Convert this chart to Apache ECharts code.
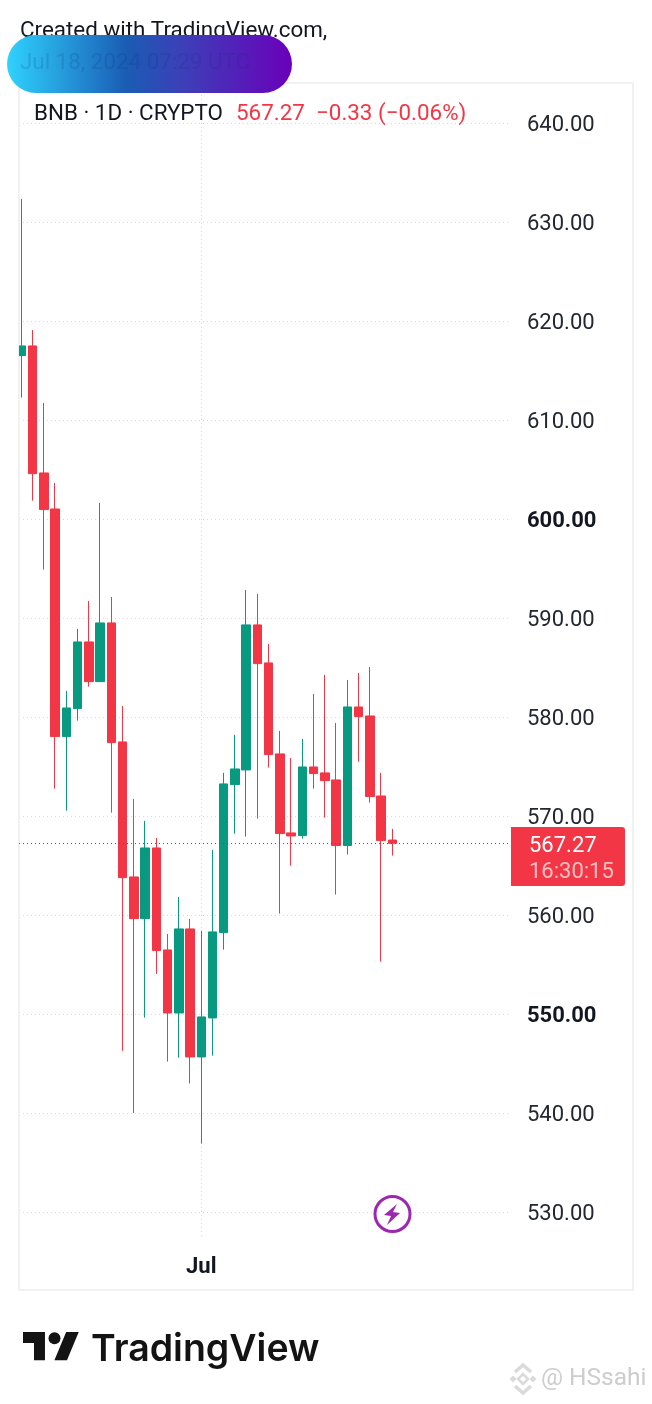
<!DOCTYPE html>
<html><head><meta charset="utf-8">
<style>html,body{margin:0;padding:0;background:#fff}#c{width:652px;height:1404px}</style>
<script src="https://cdn.jsdelivr.net/npm/echarts@6/dist/echarts.min.js"></script>
</head><body><div id="c"></div>
<script>
const opens  = [616.53,617.51,604.68,601.04,578.05,580.88,587.61,583.60,589.53,577.51,563.87,559.66,566.80,556.50,550.13,558.62,545.69,549.63,558.25,573.20,574.68,589.33,585.49,576.30,568.32,568.05,574.98,574.38,573.67,567.04,581.04,580.13,572.05,567.60];
const closes = [617.51,604.61,600.98,578.05,580.94,587.61,583.60,589.53,577.44,563.80,559.66,566.80,556.43,550.13,558.62,545.69,549.73,558.32,573.27,574.78,589.33,585.42,576.23,568.25,568.01,574.98,574.31,573.60,567.04,581.04,580.07,571.99,567.54,567.27];
const lows   = [612.29,601.88,594.92,572.79,570.57,579.66,583.10,583.60,570.37,546.30,540.03,549.66,554.07,545.22,545.62,543.00,536.94,545.82,556.53,568.25,567.95,569.76,574.92,560.17,565.02,567.74,572.79,569.87,562.09,566.13,575.52,571.38,555.32,566.03];
const highs  = [632.36,619.12,611.75,603.67,582.66,588.92,591.75,601.65,592.15,581.14,571.75,569.53,567.81,558.11,561.85,559.63,558.42,566.60,574.38,578.22,592.86,592.46,587.41,578.62,575.89,577.81,582.36,584.28,579.43,583.77,584.48,585.08,574.38,568.72];
const priceTicks = [530,540,550,560,570,580,590,600,610,620,630,640];
const boldTicks = [550,600];
const monthTicks = [16];
const monthLabels = ['Jul'];
const lastPrice = 567.27;
const countdown = '16:30:15';
const title = 'Created with TradingView.com,';
const hiddenDate = 'Jul 18, 2024 07:29 UTC';
const symbol = 'BNB · 1D · CRYPTO';
const priceText = '567.27';
const changeText = '−0.33 (−0.06%)';

const UP='#089981', DOWN='#F23645', FONT='Roboto', INK='#131722';
const candles = opens.map((o,i)=>[i,o,closes[i],lows[i],highs[i]]);

const chart = echarts.init(document.getElementById('c'),null,{renderer:'canvas'});
const txt=(x,y,t,s,fill,extra)=>({type:'text',x,y,z:20,style:Object.assign({text:t,fontFamily:FONT,fontSize:s,fill,verticalAlign:'middle',align:'left'},extra||{})});
const WM='#dadada';
chart.setOption({
  animation:false,
  backgroundColor:'#fff',
  grid:{left:19,right:142,top:83,bottom:167,containLabel:false},
  xAxis:{type:'value',min:-0.223,max:43.477,
    axisLine:{show:false},
    axisTick:{show:false,customValues:monthTicks},
    splitLine:{show:true,lineStyle:{color:'#d9d9d9',type:[1,3],width:1}},
    axisLabel:{customValues:monthTicks,margin:19,fontFamily:FONT,fontSize:22,fontWeight:'bold',color:INK,
      formatter:v=>monthLabels[monthTicks.indexOf(v)]||''}},
  yAxis:{type:'value',position:'right',min:527.5,max:644.07,scale:true,
    axisLine:{show:false},
    axisTick:{show:false,customValues:priceTicks},
    splitLine:{show:true,lineStyle:{color:'#d9d9d9',type:[1,3],width:1}},
    axisLabel:{customValues:priceTicks,margin:17,padding:[5,0,0,0],fontFamily:FONT,fontSize:22,color:'#23272f',
      formatter:v=>boldTicks.includes(v)?'{b|'+v.toFixed(2)+'}':v.toFixed(2),
      rich:{b:{fontFamily:FONT,fontSize:22,fontWeight:'bold',color:INK}}}},
  series:[{type:'candlestick',z:2,data:candles,encode:{x:0,y:[1,2,3,4]},barWidth:9,
    itemStyle:{color:UP,color0:DOWN,borderColor:UP,borderColor0:DOWN,borderWidth:1},
    markLine:{silent:true,symbol:'none',label:{show:false},
      lineStyle:{color:'#c22b3f',type:[1,3],width:1},data:[{yAxis:lastPrice}]}}],
  graphic:[
    {type:'rect',z:1,shape:{x:19,y:83,width:614,height:1207},style:{fill:'none',stroke:'#f1f1f1',lineWidth:2}},
    {type:'rect',z:10,shape:{x:12,y:340,width:6,height:24},style:{fill:'#fff'}},
    {type:'rect',z:10,shape:{x:18,y:340,width:1,height:24},style:{fill:'#f1f1f1'}},
    txt(20,31,title,22.4,'#131722'),
    {type:'rect',z:21,shape:{x:7,y:35,width:285,height:58,r:29},style:{fill:new echarts.graphic.LinearGradient(0,0,1,0,[{offset:0,color:'#2fd2fd'},{offset:0.42,color:'#1a5cb4'},{offset:0.62,color:'#3d3fb8'},{offset:1,color:'#6a00ba'}])}},
    Object.assign(txt(20,63,hiddenDate,22.4,'rgba(15,45,110,0.16)'),{z:22}),
    txt(34,114,symbol,22.4,'#131722'),
    txt(236,114,priceText,22.4,DOWN),
    txt(316,114,changeText,22.4,DOWN),
    {type:'rect',z:20,shape:{x:511,y:827,width:114,height:59,r:[0,3,3,0]},style:{fill:DOWN}},
    txt(529,846,priceText,22,'#ffffff'),
    txt(529,872,countdown,22,'rgba(255,255,255,0.68)'),
    {type:'circle',z:20,shape:{cx:392.5,cy:1214,r:17.5},style:{fill:'#fff',stroke:'#9c27b0',lineWidth:3}},
    {type:'polygon',z:21,shape:{points:[[397,1204],[384,1215],[391,1216],[387,1225],[400,1213],[393,1212]]},style:{fill:'#9c27b0'}},
    {type:'polygon',z:20,x:23,y:1325.7,scaleX:1.57,scaleY:1.57,shape:{points:[[14,22],[7,22],[7,11],[0,11],[0,4],[14,4]]},style:{fill:'#131313'}},
    {type:'polygon',z:20,x:23,y:1325.7,scaleX:1.57,scaleY:1.57,shape:{points:[[28,22],[20,22],[27.5,4],[35.5,4]]},style:{fill:'#131313'}},
    {type:'circle',z:20,shape:{cx:54.5,cy:1338.3,r:6},style:{fill:'#131313'}},
    txt(91,1350,'TradingView',37.5,'#131313',{fontFamily:'Inter',fontWeight:600}),
    {type:'polygon',z:20,shape:{points:[[523,1374],[528,1379],[523,1384],[518,1379]]},style:{fill:'none',stroke:WM,lineWidth:2.5}},
    {type:'polygon',z:20,shape:{points:[[513,1375.5],[516.5,1379],[513,1382.5],[509.5,1379]]},style:{fill:WM}},
    {type:'polygon',z:20,shape:{points:[[533,1375.5],[536.5,1379],[533,1382.5],[529.5,1379]]},style:{fill:WM}},
    {type:'polyline',z:20,shape:{points:[[515,1372],[523,1365],[531,1372]]},style:{fill:'none',stroke:WM,lineWidth:3.5}},
    {type:'polyline',z:20,shape:{points:[[515,1386],[523,1393],[531,1386]]},style:{fill:'none',stroke:WM,lineWidth:3.5}},
    txt(541,1379,'@ HSsahi',24.5,'#cdcdcd',{fontFamily:'Roboto'})
  ]
});
</script></body></html>
